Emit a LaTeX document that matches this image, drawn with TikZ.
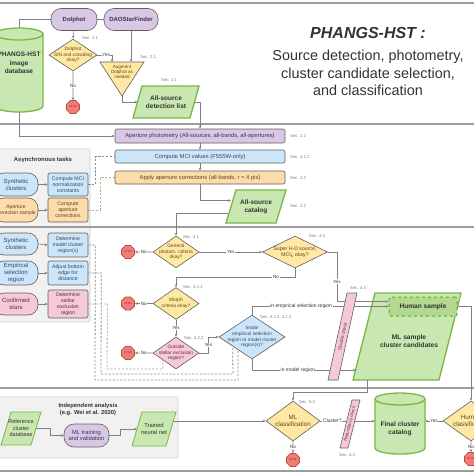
\documentclass[tikz,border=0pt]{standalone}
\usepackage{fontspec}
\setmainfont{Liberation Sans}
\usetikzlibrary{shapes.geometric,arrows.meta,calc}
\pgfdeclarelayer{panel}
\pgfdeclarelayer{low}
\pgfdeclarelayer{bg}
\pgfsetlayers{panel,low,bg,main}

\definecolor{gfill}{HTML}{C9E7B0}
\definecolor{gline}{HTML}{7AB648}
\definecolor{hsfill}{HTML}{B3D98E}
\definecolor{hsline}{HTML}{6AA33C}
\definecolor{yfill}{HTML}{FFE8A3}
\definecolor{pfill}{HTML}{D8C8E6}
\definecolor{bfill}{HTML}{CDE5F8}
\definecolor{ofill}{HTML}{FDDCAB}
\definecolor{kfill}{HTML}{F6C9DA}
\definecolor{rfill}{HTML}{EE7D76}
\definecolor{rline}{HTML}{C9453E}
\definecolor{rtxt}{HTML}{7A1F1A}
\definecolor{bord}{HTML}{5F5F5F}
\definecolor{cgray}{HTML}{808080}
\definecolor{sepg}{HTML}{9C9C9C}
\definecolor{secg}{HTML}{7A7A7A}
\definecolor{panelf}{HTML}{F1F1F1}
\definecolor{panell}{HTML}{CFCFCF}
\definecolor{dashb}{HTML}{7D8EA5}
\definecolor{dasho}{HTML}{C9AE70}
\definecolor{dashp}{HTML}{CF8DAA}
\definecolor{txt}{HTML}{333333}
\definecolor{ytxt}{HTML}{5E4A14}
\definecolor{btxt}{HTML}{2C4A66}
\definecolor{otxt}{HTML}{5E4218}
\definecolor{ktxt}{HTML}{5E2A3E}
\definecolor{ptxt}{HTML}{3E3150}

\newcommand\fsz[2]{\fontsize{#1pt}{#2pt}\selectfont}
\newcommand\mypara[8]{%
 \node[inner sep=0pt,outer sep=0pt,minimum width=#3,minimum height=#4] (#1) at (#2) {};
 \path[#6] ([xshift=-0.5*#5]#1.south west) -- ([xshift=-0.5*#5]#1.south east) -- ([xshift=0.5*#5]#1.north east) -- ([xshift=0.5*#5]#1.north west) -- cycle;
 \node[align=center,inner sep=0pt,#7] (#1-t) at (#1.center) {#8};}

\tikzset{
 base/.style={draw=bord, line width=0.6pt, inner sep=1pt, align=center},
 box/.style={base, rectangle, rounded corners=2pt},
 pill/.style={base, rectangle, rounded corners=10pt},
 diam/.style={diamond, draw=bord, line width=0.6pt, inner sep=0pt},
 dtext/.style={align=center, font=\fsz{4.8}{5.6}, inner sep=0pt},
 stopn/.style={regular polygon, regular polygon sides=8, minimum size=14pt, fill=rfill, draw=rline, line width=0.6pt, inner sep=0pt, font=\fsz{2.6}{3}, text=rtxt},
 conn/.style={draw=cgray, line width=0.55pt},
 arr/.style={conn, -{Stealth[length=3pt,width=2.6pt]}},
 dsh/.style={line width=0.8pt, dash pattern=on 2.2pt off 1.6pt},
 seg/.style={draw=sepg, line width=1.3pt},
 sec/.style={font=\fsz{4.2}{4.6}, text=secg, inner sep=0pt, anchor=west},
 cl/.style={font=\fsz{4.6}{5}, text=txt, fill=white, inner sep=0.6pt},
 cll/.style={font=\fsz{5}{5.5}, text=txt, fill=white, inner sep=0.6pt},
 gshape/.style={fill=gfill, draw=gline, line width=1.3pt},
 gthin/.style={fill=gfill, draw=gline, line width=0.8pt},
 yshape/.style={fill=yfill, draw=bord, line width=0.6pt},
 kshape/.style={fill=kfill, draw=bord, line width=0.6pt},
 panelbox/.style={fill=panelf, draw=panell, line width=0.6pt, rounded corners=2pt, inner sep=0pt},
 smallbox/.style={box, minimum width=40pt, font=\fsz{5.2}{6}},
 sidepill/.style={pill, minimum width=44pt, font=\fsz{6}{7}},
}

\begin{document}
\begin{tikzpicture}[x=1pt,y=-1pt]
\useasboundingbox (0,0) rectangle (474,474);

% ---------- panels ----------
\begin{pgfonlayer}{panel}
\node[panelbox, minimum width=95pt, minimum height=173pt] (asyp) at (42.5,235.5) {};
\node[panelbox, minimum width=183pt, minimum height=61pt] (indp) at (86.5,427.5) {};
\end{pgfonlayer}

% ---------- title ----------
\node[font=\bfseries\itshape\fsz{16}{19}, text=txt] (title) at (368,33) {PHANGS-HST :};
\node[font=\fsz{14.4}{17.5}, text=txt, align=center] (subtitle) at (368,73) {Source detection, photometry,\\cluster candidate selection,\\and classification};

% ---------- section 1 ----------
\node[inner sep=0pt, minimum width=48pt, minimum height=84pt] (db) at (19,70) {};
\path[gshape] (-5,34) -- (-5,106) arc[start angle=180, end angle=360, x radius=24pt, y radius=6pt] -- (43,34) arc[start angle=0, end angle=180, x radius=24pt, y radius=6pt] -- cycle;
\draw[gline, line width=1.3pt] (-5,34) arc[start angle=180, end angle=360, x radius=24pt, y radius=6pt];
\node[font=\bfseries\fsz{6.5}{8.5}, text=txt, align=center] (dbt) at (19,63) {PHANGS-HST\\image\\database};

\node[pill, fill=pfill, text=ptxt, minimum width=46pt, minimum height=22pt, font=\bfseries\fsz{6}{7}] (dol) at (74,19.5) {Dolphot};
\node[pill, fill=pfill, text=ptxt, minimum width=54pt, minimum height=22pt, font=\bfseries\fsz{6}{7}] (dao) at (131,19.5) {DAOStarFinder};
\node[diam, fill=yfill, minimum width=48pt, minimum height=32pt, label={[dtext,text=ytxt]center:{Dolphot\\S/N and crowding\\okay?}}] (d1) at (73,55) {};
\node[stopn] (s1) at (73,107) {STOP};
\path[yshape] (100,62) -- (144,62) -- (122,96) -- cycle;
\coordinate (tin1) at (112,62);
\coordinate (tin2) at (131,62);
\coordinate (tapex) at (122,96);
\node[font=\fsz{4.6}{5.4}, text=ytxt, align=center] (tri) at (122,72) {Augment\\Dolphot as\\needed};
\mypara{asl}{166,102}{57pt}{32pt}{9pt}{gshape}{font=\bfseries\fsz{6.5}{7.8},text=txt}{All-source\\detection list}

\node[sec] (sec1) at (82,38) {Sec. 4.1};
\node[sec] (sec2) at (140,57) {Sec. 2.1};
\node[sec] (sec3) at (161,80) {Sec. 2.1};

% ---------- section 2 ----------
\node[box, fill=pfill, text=ptxt, minimum width=170pt, minimum height=14pt, font=\fsz{5.8}{6.5}] (ap) at (200,136) {Aperture photometry (All-sources, all-bands, all-apertures)};
\node[box, fill=bfill, text=btxt, minimum width=170pt, minimum height=13pt, font=\fsz{5.8}{6.5}] (mci) at (200,156.5) {Compute MCI values (F555W-only)};
\node[box, fill=ofill, text=otxt, minimum width=170pt, minimum height=13pt, font=\fsz{5.8}{6.5}] (apc) at (200,177.5) {Apply aperture corrections (all-bands, r = 4 pix)};
\mypara{asc}{256,206.5}{50pt}{33pt}{10pt}{gshape}{font=\bfseries\fsz{6.5}{7.8},text=txt}{All-source\\catalog}
\node[sec] (sec4) at (290,136) {Sec. 2.2};
\node[sec] (sec5) at (290,157) {Sec. 4.2.1};
\node[sec] (sec6) at (290,178) {Sec. 2.2};
\node[sec] (sec7) at (290,206) {Sec. 2.2};

\node[font=\bfseries\fsz{5.9}{7}, text=txt] (asyt) at (43,160) {Asynchronous tasks};
\node[sidepill, fill=bfill, text=btxt, minimum height=23pt] (syn1) at (16,184.5) {Synthetic\\clusters};
\node[smallbox, fill=bfill, text=btxt, minimum height=23pt] (mcin) at (68,184.5) {Compute MCI\\normalization\\constants};
\node[sidepill, fill=ofill, text=otxt, minimum height=24pt, font=\fsz{5}{6}] (acs) at (16,210) {Aperture\\correction sample};
\node[smallbox, fill=ofill, text=otxt, minimum height=24pt] (cac) at (68,210) {Compute\\aperture\\corrections};

% ---------- section 3 ----------
\node[sidepill, fill=bfill, text=btxt, minimum height=22pt] (syn2) at (16,244) {Synthetic\\clusters};
\node[smallbox, fill=bfill, text=btxt, minimum height=24pt] (mcr) at (68,245) {Determine\\model cluster\\region(s)};
\node[sidepill, fill=bfill, text=btxt, minimum height=24pt] (esr) at (16,273) {Empirical\\selection\\region};
\node[smallbox, fill=bfill, text=btxt, minimum height=24pt] (abe) at (68,273) {Adjust bottom\\edge for\\distance};
\node[sidepill, fill=kfill, text=ktxt, minimum height=22pt] (cst) at (16,304) {Confirmed\\stars};
\node[smallbox, fill=kfill, text=ktxt, minimum height=28pt] (sex) at (68,304) {Determine\\stellar\\exclusion\\region};

\node[diam, fill=yfill, minimum width=46pt, minimum height=32pt, label={[dtext,text=ytxt]center:{General\\photom. criteria\\okay?}}] (g) at (176,252) {};
\node[diam, fill=yfill, minimum width=65pt, minimum height=32pt, label={[dtext,text=ytxt,font=\fsz{5.2}{6}]center:{Super H-D source,\\MCI\textsubscript{b} okay?}}] (hd) at (295,252) {};
\node[diam, fill=yfill, minimum width=46pt, minimum height=32pt, label={[dtext,text=ytxt]center:{Morph\\criteria okay?}}] (m) at (176,303.5) {};
\node[diam, fill=kfill, minimum width=46pt, minimum height=32pt, label={[dtext,text=ktxt]center:{Outside\\stellar exclusion\\region?}}] (pd) at (176,353) {};
\node[diam, fill=bfill, minimum width=66pt, minimum height=44pt, label={[dtext,text=btxt]center:{Inside\\empirical selection\\region or model cluster\\region(s)?}}] (ins) at (252,337) {};
\node[stopn] (s2) at (128,252) {STOP};
\node[stopn] (s3) at (128,303.5) {STOP};
\node[stopn] (s4) at (128,353) {STOP};

\node[sec] (sec8) at (183,237) {Sec. 4.1};
\node[sec] (sec9) at (309,236) {Sec. 4.3};
\node[sec] (sec10) at (183,287) {Sec. 4.2.1};
\node[sec] (sec11) at (184,338) {Sec. 4.2.2};
\node[sec] (sec12) at (260,317) {Sec. 4.2.2, 4.2.3};
\node[sec] (sec13) at (350,288) {Sec. 4.4};

\begin{pgfonlayer}{low}
\mypara{mls}{407,336.5}{86pt}{87pt}{22pt}{gshape}{font=\bfseries\fsz{6.6}{8},text=txt,xshift=2pt,yshift=-4.5pt}{ML sample\\cluster candidates}
\node[fill=hsfill, draw=hsline, dashed, line width=1pt, rounded corners=2pt, minimum width=68pt, minimum height=19pt, font=\bfseries\fsz{6.6}{7}, text=txt] (hs) at (423,306.5) {Human sample};
\end{pgfonlayer}
\coordinate (mlin) at (356,370);
\mypara{dc}{342.5,336.5}{10pt}{87pt}{19pt}{kshape}{rotate=77.7,font=\fsz{4.6}{5},text=ktxt}{Double check}

% ---------- section 5 ----------
\node[font=\bfseries\fsz{5.8}{7}, text=txt, align=center] (indt) at (88,410) {Independent analysis\\(e.g. Wei et al. 2020)};
\mypara{rcd}{21,428.5}{30pt}{33pt}{10pt}{gthin}{font=\fsz{5.5}{6.5},text=txt}{Reference\\cluster\\database}
\node[pill, fill=pfill, text=ptxt, minimum width=45pt, minimum height=23pt, font=\fsz{5.8}{6.8}] (mlt) at (86.5,435.5) {ML training\\and validation};
\mypara{tnn}{154,429}{34pt}{34pt}{10pt}{gthin}{font=\fsz{5.8}{6.8},text=txt}{Trained\\neural net}

\node[diam, fill=yfill, minimum width=54pt, minimum height=40pt, label={[dtext,text=ytxt,font=\fsz{6.3}{7.4}]center:{ML\\classification}}] (mlc) at (293,421) {};
\node[stopn] (s5) at (293,460) {STOP};
\mypara{rc}{350,424}{8pt}{48pt}{12pt}{kshape}{rotate=76,font=\fsz{4.2}{5},text=ktxt}{Redundancy check}
\node[inner sep=0pt, minimum width=50pt, minimum height=50pt] (fcc) at (400,421) {};
\path[gshape] (375,399) -- (375,448) arc[start angle=180, end angle=360, x radius=25pt, y radius=6pt] -- (425,399) arc[start angle=0, end angle=180, x radius=25pt, y radius=6pt] -- cycle;
\draw[gline, line width=1.3pt] (375,399) arc[start angle=180, end angle=360, x radius=25pt, y radius=6pt];
\node[font=\bfseries\fsz{6.6}{8}, text=txt, align=center] (fcct) at (400,429) {Final cluster\\catalog};
\node[diam, fill=yfill, minimum width=56pt, minimum height=40pt, label={[dtext,text=ytxt,font=\fsz{6.3}{7.4}]center:{Human\\classification}}] (hc) at (471,421) {};
\node[stopn] (s6) at (471,459) {STOP};
\node[sec] (sec14) at (299,402) {Sec. 5.2};
\node[sec] (sec15) at (339,455) {Sec. 4.4};

% ---------- connectors ----------
\begin{pgfonlayer}{bg}
\foreach \yy in {3,124,227,388,471} {\draw[seg] (-2,\yy) -- (476,\yy);}
% section 1
\draw[conn] (db.north) |- (dol.west);
\draw[conn] (dol.east) -- (dao.west);
\draw[arr] (dol.south) -- (d1.north);
\draw[arr] (d1.south) -- node[cl]{No} (s1.north);
\draw[arr] (d1.east) -| node[cl,pos=0.3]{Yes} (tin1);
\draw[arr] (dao.south) -- (tin2);
\draw[arr] (tapex) |- (asl.west);
\draw[arr] (asl.east) -| (ap.north);
\draw[arr] (db.south) |- (ap.west);
% section 2
\draw[arr] (ap.south) -- (mci.north);
\draw[arr] (mci.south) -- (apc.north);
\draw[arr] (apc.south) |- ([yshift=6pt]asc.west);
\draw[arr] (syn1.east) -- (mcin.west);
\draw[arr] (acs.east) -- (cac.west);
\draw[dsh, draw=dashb] (mcin.east) -- ++(7,0) |- (mci.west);
\draw[dsh, draw=dasho] (cac.east) -- ++(12,0) |- (apc.west);
% section 3
\draw[arr] ([yshift=-6.5pt]asc.west) -| (g.north);
\draw[arr] (syn2.east) -- (mcr.west);
\draw[arr] (esr.east) -- (abe.west);
\draw[arr] (cst.east) -- (sex.west);
\draw[arr] (g.west) -- node[cl]{No} (s2.east);
\draw[arr] (g.east) -- node[cl]{Yes} (hd.west);
\draw[arr] (hd.south) -- ++(0,9) -| node[cl,pos=0.08]{No} (m.north);
\draw[arr] (hd.east) -- ++(9,0) |- node[cl,pos=0.3]{Yes} ([yshift=5pt]hs.west);
\draw[arr] (m.west) -- node[cl]{No} (s3.east);
\draw[arr] (m.south) -- node[cl]{Yes} (pd.north);
\draw[arr] (pd.west) -- node[cl]{No} (s4.east);
\draw[arr] (pd.east) -- ++(9,0) |- node[cl,pos=0.25]{Yes} (ins.west);
\draw[arr] (ins.north) |- node[cll,pos=0.68]{in empirical selection region} (hs.west);
\draw[arr] (ins.south) |- node[cll,pos=0.72]{in model region} (mlin);
\draw[dsh, draw=dashb] (mcr.east) -- ++(7,0) -- (95,380) -- (238,380) -- ($(ins.west)!0.58!(ins.south)$);
\draw[dsh, draw=dashb] (abe.east) -- ++(13,0) -- (101,374) -- (233,374) -- ($(ins.west)!0.42!(ins.south)$);
\draw[dsh, draw=dashp] (sex.east) -- ++(19,0) -- (107,369) -- (163,369) -- ($(pd.west)!0.43!(pd.south)$);
\draw[arr] (hs.east) -| (hc.north);
\draw[arr] ([xshift=-40pt]mls.south) -- ++(0,12) -| (mlc.north);
% section 5
\draw[arr] (rcd.east) -- ++(14,0) |- (mlt.west);
\draw[arr] (mlt.east) -- ++(11,0) |- (tnn.west);
\draw[arr] ([shift={(2.4pt,8pt)}]tnn.east) -- (mlc.west);
\draw[arr] (mlc.south) -- node[cl]{No} (s5.north);
\draw[arr] (mlc.east) -- node[cll,pos=0.22]{Cluster?} (fcc.west);
\draw[arr] (hc.west) -- node[cl]{Yes} (fcc.east);
\draw[arr] (hc.south) -- node[cl]{No} (s6.north);
\end{pgfonlayer}
\end{tikzpicture}
\end{document}
